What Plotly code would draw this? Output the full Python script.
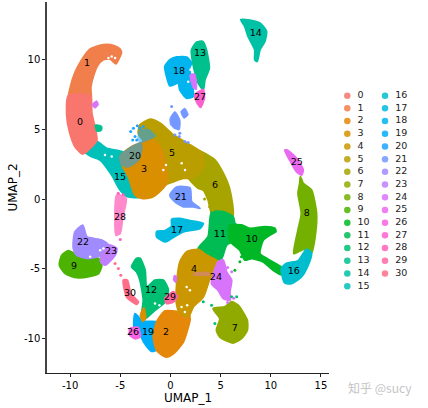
import math
import plotly.graph_objects as go

# cluster names
clusters = [str(i) for i in range(31)]

# cluster outlines (UMAP units)
c0_x = [-10.16, -8.0, -7.84, -7.51, -7.34, -8.0, -8.77, -9.5, -10.06, -10.33]
c0_y = [7.39, 7.39, 6.14, 5.07, 4.23, 3.63, 3.23, 3.75, 4.83, 6.02]
c1_x = [-5.02, -4.89, -5.15, -5.42, -6.01, -6.68, -7.27, -7.67, -7.94, -7.95, -10.2, -9.93, -9.5, -8.83, -8.0, -6.68, -5.62]
c1_y = [10.73, 10.45, 10.02, 9.68, 10.02, 9.97, 9.54, 8.82, 8.01, 6.8, 6.8, 8.1, 9.06, 9.97, 10.73, 11.04, 10.97]
c2_x = [-1.7, -1.37, -0.54, 0.95, 1.8, 1.95, 1.28, 0.29, -0.44, -1.37]
c2_y = [-9.87, -8.8, -8.01, -8.08, -8.2, -8.56, -10.23, -11.07, -11.31, -10.83]
c3_x = [-5.02, -3.86, -1.7, -0.87, -0.44, -0.31, -0.97, -1.87, -2.86, -3.53, -4.19, -4.85]
c3_y = [3.04, 3.75, 4.23, 3.51, 2.32, 1.24, 0.6, 0.12, 0.05, 0.29, 1.6, 2.44]
c4_x = [0.95, 1.61, 2.77, 3.6, 4.76, 3.93, 3.27, 2.27, 1.77, 0.95, 0.61, 0.61]
c4_y = [-4.49, -3.78, -3.61, -4.02, -4.49, -5.69, -7.0, -7.72, -8.44, -8.2, -7.48, -6.29]
c5_x = [-3.03, -2.03, -1.04, 0.29, 1.95, 3.1, 3.3, 2.2, 1.28, 0.29, -0.8, -1.2, -1.6, -2.5, -3.2]
c5_y = [5.31, 5.71, 5.43, 4.59, 3.87, 3.3, 2.3, 1.5, 1.48, 1.24, 1.0, 1.5, 3.0, 4.0, 4.71]
c6_x = [2.3, 4.43, 5.26, 5.92, 6.19, 4.26, 3.76, 3.27, 2.77, 1.94, 1.77, 2.3]
c6_y = [3.6, 2.8, 1.84, 0.65, -1.3, -1.3, -0.07, 0.65, 0.77, 1.36, 1.6, 2.5]
c7_x = [4.26, 5.42, 6.09, 6.75, 7.65, 7.65, 7.08, 6.25, 4.93, 4.59, 4.93]
c7_y = [-7.84, -7.72, -7.36, -7.6, -8.68, -9.39, -9.99, -10.3, -9.87, -9.39, -8.56]
c8_x = [12.95, 13.22, 14.05, 14.55, 14.45, 14.05, 13.55, 12.72, 12.29, 12.72, 13.05, 12.72, 12.89]
c8_y = [1.6, 1.12, 0.645, -1.03, -2.46, -3.85, -3.54, -3.78, -3.9, -2.22, -1.03, 0.41, 1.12]
c9_x = [-11.06, -10.82, -10.16, -9.33, -8.34, -7.17, -6.84, -7.17, -8.0, -9.33, -10.49]
c9_y = [-4.73, -4.02, -3.7, -4.02, -4.25, -4.25, -4.73, -5.33, -5.52, -5.62, -5.33]
c10_x = [5.9, 7.08, 7.91, 9.4, 10.4, 10.5, 9.9, 9.24, 8.91, 9.57, 11.2, 11.2, 10.23, 9.24, 8.08, 7.41, 6.92, 5.9]
c10_y = [-1.9, -1.86, -2.1, -1.98, -2.1, -2.34, -2.58, -2.94, -3.9, -4.25, -4.97, -5.45, -5.09, -4.49, -4.25, -4.37, -3.66, -3.0]
c11_x = [4.1, 5.26, 6.25, 6.42, 6.75, 6.42, 5.59, 5.09, 4.43, 3.6, 2.77, 3.76]
c11_y = [-0.95, -0.91, -1.27, -1.75, -1.98, -2.94, -3.3, -4.25, -4.37, -3.9, -3.54, -2.7]
c12_x = [-3.36, -3.03, -2.53, -2.37, -1.54, -0.71, -0.21, -0.54, -1.54, -2.53, -2.86, -2.7, -3.03, -3.36, -3.86]
c12_y = [-4.25, -4.25, -5.09, -6.29, -5.81, -5.81, -6.52, -7.36, -7.96, -8.56, -8.44, -7.24, -5.81, -5.21, -4.85]
c13_x = [2.11, 2.6, 3.2, 3.53, 3.86, 3.43, 3.27, 2.77, 2.27]
c13_y = [10.68, 11.21, 11.28, 10.8, 9.37, 8.53, 7.82, 8.3, 9.61]
c14_x = [7.02, 7.91, 8.91, 9.57, 9.4, 8.91, 8.64, 8.41, 8.41, 7.74, 7.41]
c14_y = [12.84, 12.8, 12.6, 12.0, 11.28, 10.68, 9.85, 9.97, 10.68, 11.64, 12.36]
c15_x = [-8.9, -8.0, -7.34, -6.35, -4.5, -4.2, -3.5, -3.0, -4.29, -5.02, -5.85, -7.01, -8.0]
c15_y = [3.6, 3.63, 4.11, 3.63, 3.3, 2.2, 1.2, 0.17, 0.17, 0.65, 1.72, 2.8, 3.09]
c16_x = [11.06, 11.56, 12.72, 13.55, 14.05, 13.72, 13.05, 12.06, 11.39]
c16_y = [-4.97, -4.61, -4.42, -3.61, -3.85, -4.73, -5.57, -6.05, -6.0]
c17_x = [-1.37, -0.54, 0.12, 0.12, 0.95, 1.95, 3.27, 2.94, 1.28, 0.12, -0.54, -1.37]
c17_y = [-2.34, -2.27, -1.94, -1.46, -1.39, -1.55, -1.75, -2.1, -2.34, -2.82, -3.06, -2.7]
c18_x = [-0.05, 0.61, 1.61, 2.1, 1.9, 2.0, 2.27, 1.61, 0.94, 0.78, -0.05, -0.38, -0.55]
c18_y = [9.97, 10.16, 10.16, 9.73, 9.37, 8.89, 7.34, 7.22, 7.82, 8.3, 8.1, 8.77, 9.49]
c19_x = [-3.53, -3.2, -2.87, -1.3, -1.5, -1.2, -1.87, -2.43, -2.87, -3.03, -3.6]
c19_y = [-8.2, -8.44, -8.75, -8.8, -9.87, -10.71, -10.9, -10.47, -9.92, -9.27, -9.2]
c20_x = [-5.02, -3.96, -3.03, -1.54, -2.2, -3.03, -3.2, -2.86, -3.2, -4.19, -4.85]
c20_y = [3.04, 3.68, 4.04, 4.52, 4.95, 4.9, 4.35, 3.75, 2.8, 2.32, 2.44]
c21_x = [-0.05, 0.61, 1.94, 2.11, 2.94, 2.27, 1.28, 0.45]
c21_y = [0.29, 0.85, 0.8, -0.19, -0.67, -0.55, -0.55, -0.19]
c22_x = [-9.66, -9.5, -8.74, -8.34, -6.84, -6.18, -6.84, -7.34, -8.17, -9.33, -9.66]
c22_y = [-2.94, -2.34, -1.87, -2.7, -2.94, -3.3, -4.02, -4.14, -4.25, -4.02, -3.54]
c23_x = [-6.84, -6.18, -5.35, -5.52, -6.51, -6.94]
c23_y = [-4.02, -3.3, -3.54, -4.02, -4.73, -4.5]
c24_x = [4.76, 5.26, 5.59, 6.09, 5.92, 5.92, 5.26, 4.76, 4.1]
c24_y = [-4.49, -4.37, -5.21, -5.81, -6.64, -7.24, -7.12, -6.53, -6.05]
c25_x = [11.39, 11.72, 12.55, 13.22, 13.05, 12.55, 12.06]
c25_y = [3.51, 3.47, 2.92, 2.08, 1.72, 1.96, 2.56]
c26_x = [-4.03, -3.2, -3.03, -3.53, -4.03]
c26_y = [-9.27, -9.2, -9.87, -9.99, -9.75]
c27_x = [2.44, 3.27, 3.37, 3.0, 2.6]
c27_y = [7.46, 7.82, 7.22, 6.57, 6.98]
c28_x = [-5.35, -4.42, -4.75, -5.02, -5.42, -5.52]
c28_y = [0.29, 0.05, -1.27, -2.46, -2.58, -1.51]
c29_x = [-0.54, 0.29, 0.68, 0.29, -0.37]
c29_y = [-7.12, -6.64, -7.0, -7.36, -7.48]
c30_x = [-4.69, -4.29, -3.96, -3.2, -3.36, -4.36]
c30_y = [-5.81, -5.81, -6.76, -7.36, -7.53, -7.0]

outlines = [(c0_x, c0_y), (c1_x, c1_y), (c2_x, c2_y), (c3_x, c3_y), (c4_x, c4_y), (c5_x, c5_y),
            (c6_x, c6_y), (c7_x, c7_y), (c8_x, c8_y), (c9_x, c9_y), (c10_x, c10_y), (c11_x, c11_y),
            (c12_x, c12_y), (c13_x, c13_y), (c14_x, c14_y), (c15_x, c15_y), (c16_x, c16_y),
            (c17_x, c17_y), (c18_x, c18_y), (c19_x, c19_y), (c20_x, c20_y), (c21_x, c21_y),
            (c22_x, c22_y), (c23_x, c23_y), (c24_x, c24_y), (c25_x, c25_y), (c26_x, c26_y),
            (c27_x, c27_y), (c28_x, c28_y), (c29_x, c29_y), (c30_x, c30_y)]

# clouds overlap each other, this is who sits on top of who
draw_order = [1, 15, 0, 6, 5, 3, 11, 10, 8, 16, 12, 19, 2, 4, 18, 13, 7, 9, 14, 17, 20, 21, 22, 23, 24,
              25, 26, 27, 28, 29, 30]

# smaller detached patches: cluster, x, y
patches = [
    (21, [-0.04, 0.45, 0.95, 0.88, 0.35, 0.02], [5.78, 6.26, 5.67, 4.95, 5.07, 5.31]),
    (21, [1.04, 1.44, 1.77, 1.34], [6.26, 6.5, 6.02, 5.78]),
    (24, [1.94, 2.44, 2.6, 2.27], [8.89, 8.96, 7.82, 7.94]),
    (24, [-7.84, -7.34, -7.18, -7.51], [6.74, 7.03, 6.74, 6.5]),
    (24, [0.39, 0.62, 0.55, 0.29], [-5.45, -5.52, -6.0, -5.81]),
    (13, [-7.51, -6.85, -6.85, -7.34], [5.3, 5.23, 4.9, 4.83]),
    (3, [-3.03, -2.63, -2.43, -2.77], [-8.32, -7.72, -8.56, -8.8]),
]

# the greyish pink smear on top of cluster 4
smear_x = [2.27, 3.93, 3.93, 2.27]
smear_y = [-5.21, -5.21, -5.52, -5.52]

# stray cells
speck_groups = [
    (20, [-3.96, -3.69, -3.3, -3.53, -3.76, -3.36, -3.03, -2.7], [4.83, 5.07, 5.24, 4.47, 4.23, 4.23, 5.07, 5.19]),
    (21, [0.88, 1.77, 1.44, 0.45, 0.94, 0.12], [4.47, 4.04, 4.11, 4.59, 4.71, 6.62]),
    (10, [6.25, 6.75, 7.08, 6.42, 6.92], [-3.06, -3.42, -4.13, -5.09, -4.49]),
    (12, [3.27, 4.1, 4.43, 6.1, 6.6], [-7.36, -7.6, -8.91, -7.0, -7.0]),
    (24, [6.1, 5.7, 5.7, 6.3], [-5.2, -4.9, -7.4, -7.1]),
    (30, [-5.52, -5.19, -4.95], [-4.61, -4.97, -5.45]),
    (28, [-5.2, -4.7, -5.0], [0.42, 0.3, -2.9]),
    (6, [3.4, 3.9, 4.2], [0.0, -0.55, -0.8]),
]

# white gaps inside the clouds
gap_x = [-0.71, -0.44, 1.12, 1.45, -6.18, -5.85, -5.52, -6.52, -5.85, 1.61, 1.94, 1.11, 1.44, 1.67,
         2.0, 1.77, -7.0, -6.68, -8.0, -1.54, -1.1]
gap_y = [2.08, 2.44, 2.56, 2.08, 10.09, 10.2, 10.09, 3.15, 3.04, -6.29, -6.52, -7.72, -8.08, -7.6,
         9.25, 8.4, -3.66, -3.54, -4.13, -7.48, -7.6]

# numbers written on the clusters
label_x = [-9.0, -8.3, -0.45, -2.64, 2.34, 0.15, 4.43, 6.42, 13.58, -9.6, 8.11, 4.93, -1.94, 2.94, 8.51, -5.02,
           12.29, 0.65, 0.85, -2.24, -3.53, 1.04, -8.71, -5.92, 4.53, 12.59, -3.73, 2.94, -5.02, -0.05, -4.03]
label_y = [5.45, 9.68, -9.53, 2.08, -5.02, 3.23, 0.93, -9.25, -1.08, -4.87, -2.94, -2.58, -6.52, 10.39, 11.83, 1.51,
           -5.16, -2.29, 9.1, -9.53, 3.01, 0.07, -3.15, -3.73, -5.59, 2.58, -9.53, 7.24, -1.36, -7.03, -6.74]

x_ticks = [-10, -5, 0, 5, 10, 15]
y_ticks = [-10, -5, 0, 5, 10]


def hcl(h, c=100, l=65):
    # same colour space as the ggplot default palette
    hr = math.radians(h)
    y = ((l + 16) / 116) ** 3
    up = c * math.cos(hr) / (13 * l) + 0.1978398
    vp = c * math.sin(hr) / (13 * l) + 0.4683363
    x = 9 * y * up / (4 * vp)
    z = y * (12 - 3 * up - 20 * vp) / (4 * vp)
    rgb = [3.2406 * x - 1.5372 * y - 0.4986 * z,
           -0.9689 * x + 1.8758 * y + 0.0415 * z,
           0.0557 * x - 0.2040 * y + 1.0570 * z]
    out = []
    for v in rgb:
        v = max(0, min(1, v))
        v = 12.92 * v if v <= 0.0031308 else 1.055 * v ** (1 / 2.4) - 0.055
        out.append(round(v * 255))
    return "#%02X%02X%02X" % tuple(out)


colors = [hcl(15 + 360 * i / 31) for i in range(31)]

fig = go.Figure()

# clusters
for i in draw_order:
    xs, ys = outlines[i]
    fig.add_trace(go.Scatter(x=xs + xs[:1], y=ys + ys[:1], mode="lines", fill="toself", fillcolor=colors[i],
                             line=dict(color=colors[i], width=2, shape="spline", smoothing=0.6),
                             name=clusters[i], opacity=0.55 if i == 20 else (0.75 if i == 28 else 1),
                             showlegend=False, hoverinfo="skip"))
for c, xs, ys in patches:
    fig.add_trace(go.Scatter(x=xs + xs[:1], y=ys + ys[:1], mode="lines", fill="toself", fillcolor=colors[c],
                             line=dict(color=colors[c], width=1, shape="spline", smoothing=0.6),
                             showlegend=False, hoverinfo="skip"))
fig.add_trace(go.Scatter(x=smear_x + smear_x[:1], y=smear_y + smear_y[:1], mode="lines", fill="toself",
                         fillcolor=colors[24], line=dict(width=0), opacity=0.35,
                         showlegend=False, hoverinfo="skip"))
for c, xs, ys in speck_groups:
    fig.add_trace(go.Scatter(x=xs, y=ys, mode="markers", marker=dict(color=colors[c], size=3),
                             showlegend=False, hoverinfo="skip"))
fig.add_trace(go.Scatter(x=gap_x, y=gap_y, mode="markers", marker=dict(color="white", size=2.5),
                         showlegend=False, hoverinfo="skip"))

fig.add_trace(go.Scatter(x=label_x, y=label_y, mode="text", text=clusters,
                         textfont=dict(family="DejaVu Sans", size=9.5, color="black"),
                         showlegend=False, hoverinfo="skip"))

# two column legend on its own hidden axes, the native one can't get rows this tight
leg_col = [0 if i < 16 else 1 for i in range(31)]
leg_row = [i if i < 16 else i - 16 for i in range(31)]
fig.add_trace(go.Scatter(x=leg_col, y=leg_row, mode="markers", xaxis="x2", yaxis="y2",
                         marker=dict(color=colors, size=6.5, opacity=0.85),
                         showlegend=False, hoverinfo="skip"))
fig.add_trace(go.Scatter(x=[c + 0.27 for c in leg_col], y=leg_row, mode="text", xaxis="x2", yaxis="y2",
                         text=clusters, textposition="middle right",
                         textfont=dict(family="DejaVu Sans", size=9.5, color="#222222"),
                         showlegend=False, hoverinfo="skip"))

axis_font = dict(family="DejaVu Sans", size=10, color="black")
fig.update_layout(
    width=428, height=408,
    margin=dict(l=0, r=0, t=0, b=0),
    paper_bgcolor="white", plot_bgcolor="white",
    xaxis=dict(domain=[47 / 428, 329 / 428], range=[-12.3, 15.8], showgrid=False, zeroline=False,
               showline=True, linecolor="#222222", linewidth=1, ticks="outside", ticklen=3,
               tickcolor="#222222", tickvals=x_ticks, ticktext=[str(t) for t in x_ticks], tickfont=axis_font,
               title=dict(text="UMAP_1", font=dict(family="DejaVu Sans", size=12, color="black"), standoff=3)),
    yaxis=dict(domain=[35 / 408, 406 / 408], range=[-12.45, 14.1], showgrid=False, zeroline=False,
               showline=True, linecolor="#444444", linewidth=1.5, ticks="outside", ticklen=3,
               tickcolor="#222222", tickvals=y_ticks, ticktext=[str(t) for t in y_ticks], tickfont=axis_font,
               title=dict(text="UMAP_2", font=dict(family="DejaVu Sans", size=12, color="black"), standoff=4)),
    xaxis2=dict(domain=[337 / 428, 1], range=[-0.273, 2.14], visible=False, anchor="y2"),
    yaxis2=dict(domain=[108 / 408, 323 / 408], range=[16.09, -0.84], visible=False, anchor="x2"),
    annotations=[dict(text="知乎 @sucy", x=380 / 428, y=21 / 408, xref="paper", yref="paper",
                      xanchor="center", yanchor="middle", showarrow=False,
                      font=dict(family="Noto Sans CJK SC", size=12, color="#c4c4c4"))],
)

fig.write_html("out.html", config={"displayModeBar": False}, post_script="document.body.style.margin='0';")
